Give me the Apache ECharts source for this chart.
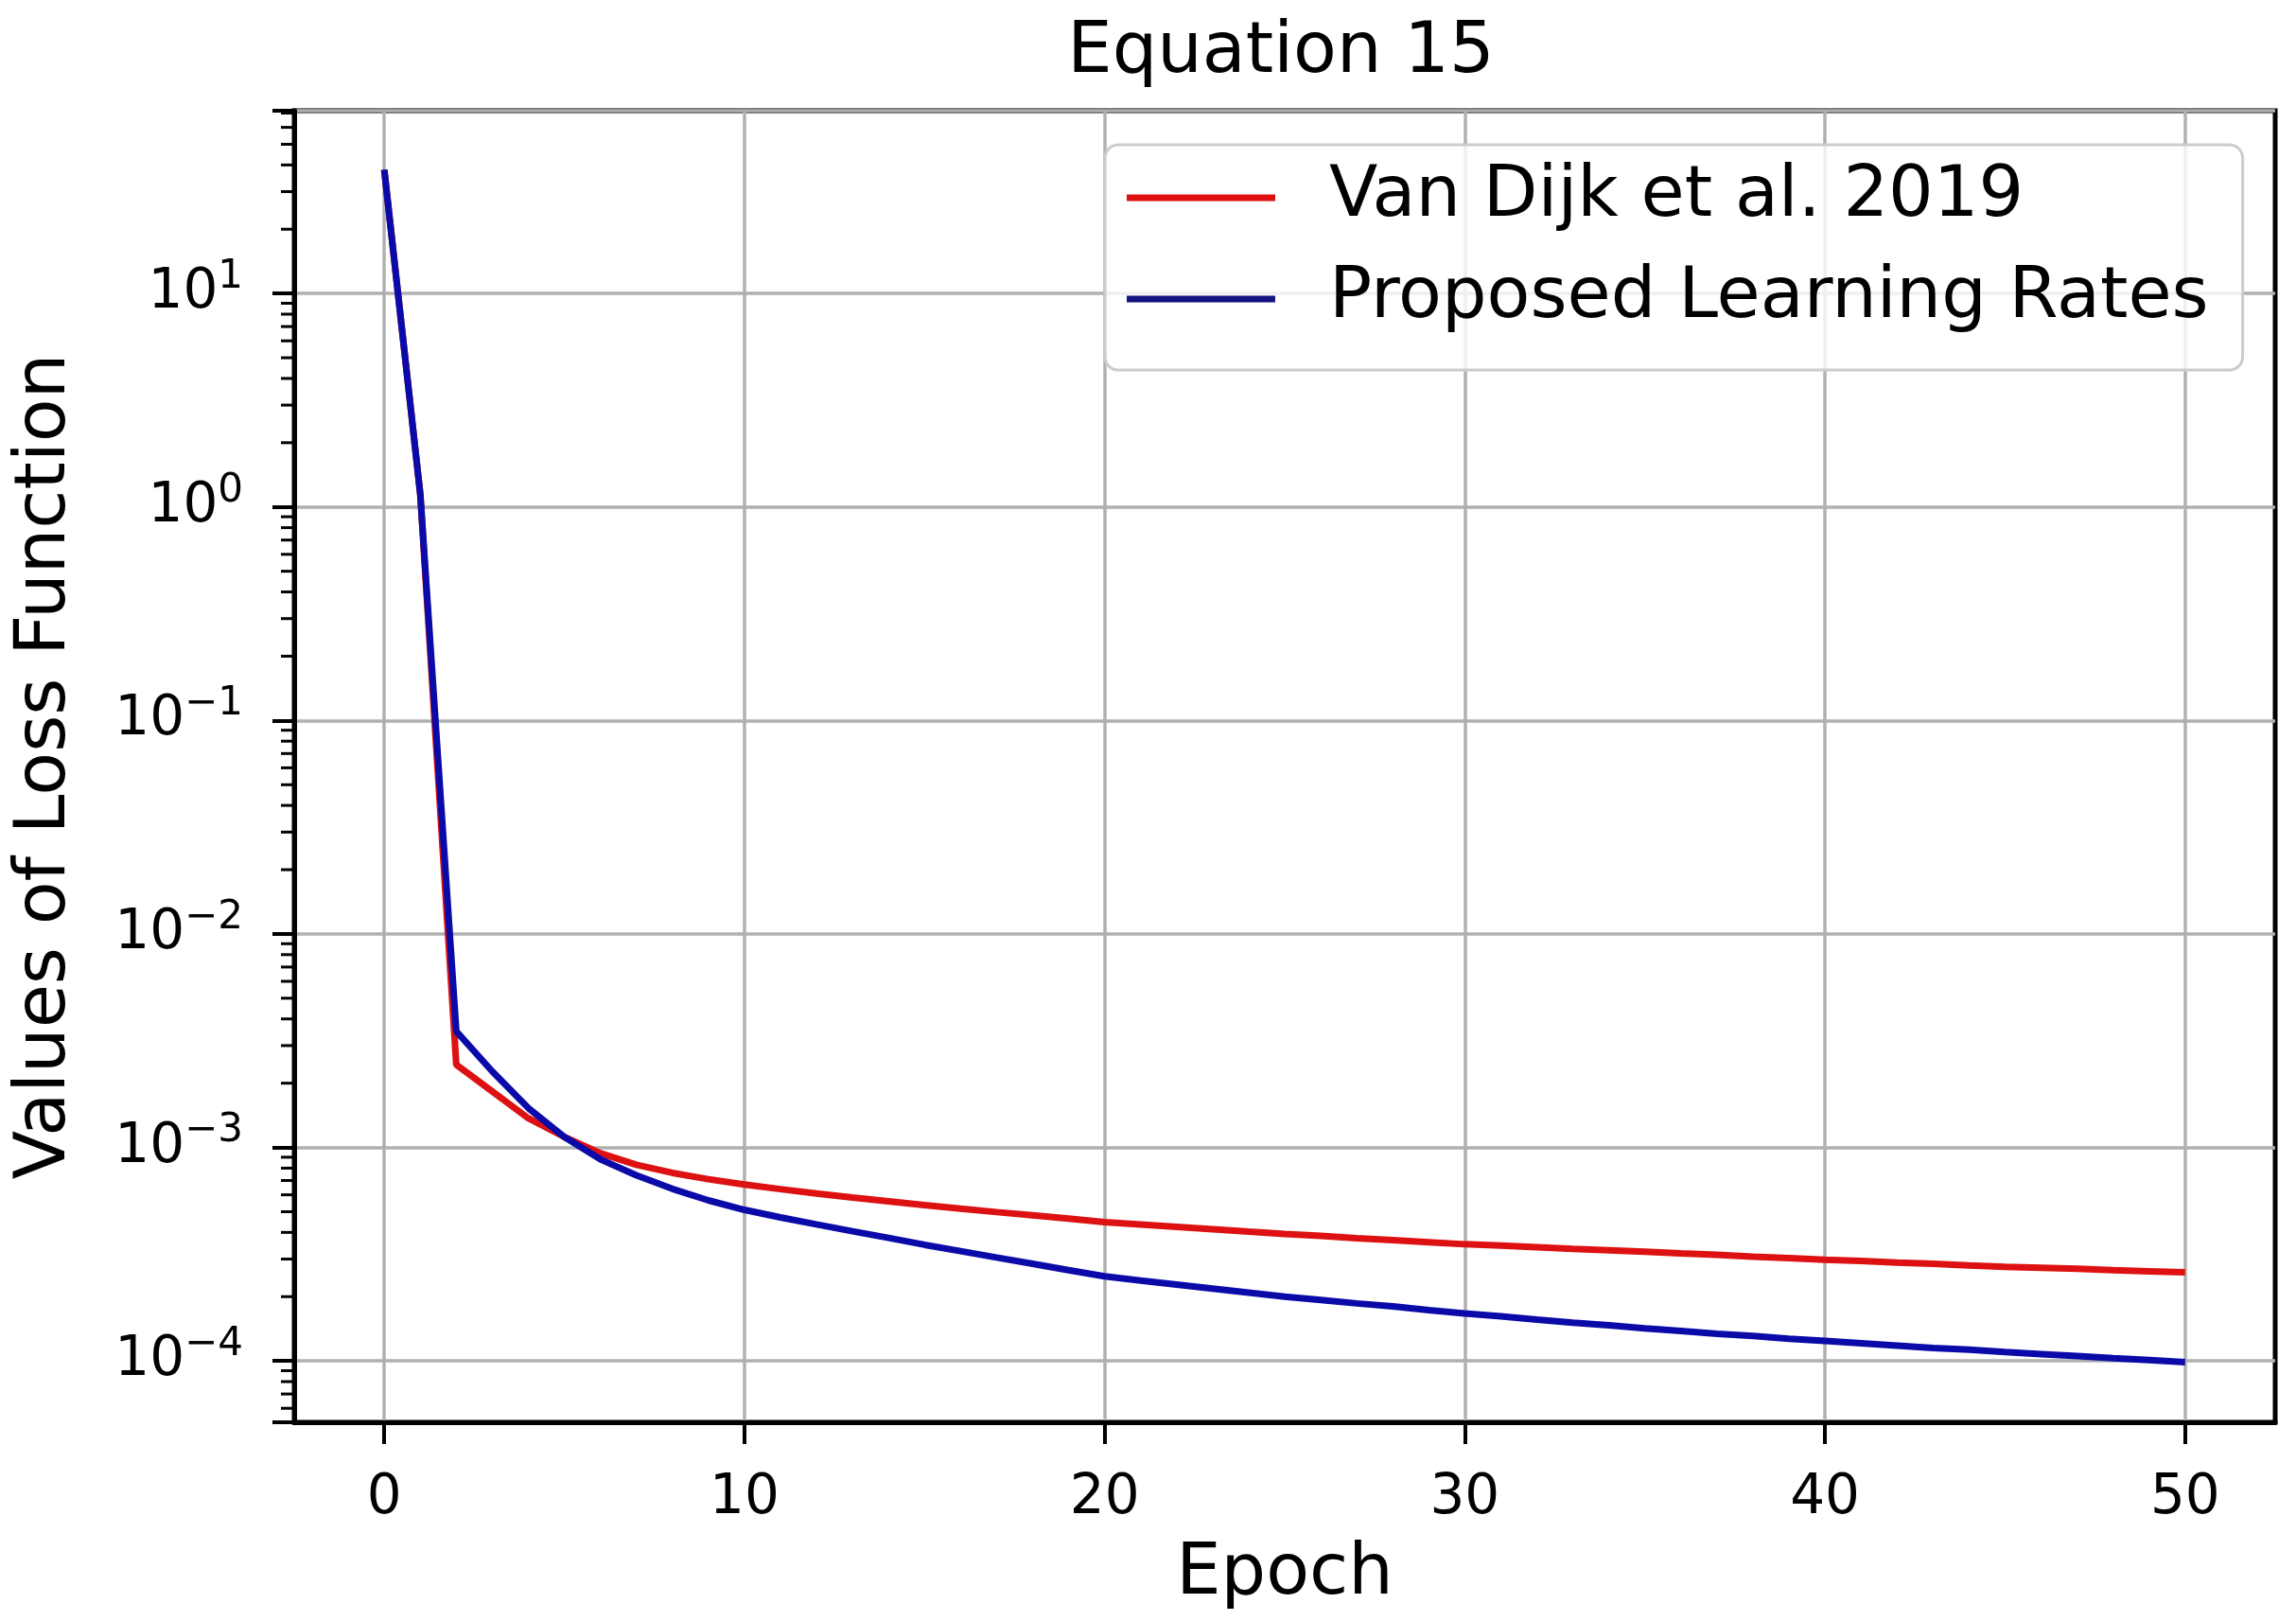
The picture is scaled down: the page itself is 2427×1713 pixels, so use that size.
<!DOCTYPE html>
<html><head><meta charset="utf-8">
<script src="https://cdn.jsdelivr.net/npm/echarts@6/dist/echarts.min.js"></script>
<style>html,body{margin:0;padding:0;background:#fff}#c{width:2427px;height:1713px}</style>
</head><body><div id="c"></div>
<script>
const epochs = [0,1,2,3,4,5,6,7,8,9,10,11,12,13,14,15,16,17,18,19,20,21,22,23,24,25,26,27,28,29,30,31,32,33,34,35,36,37,38,39,40,41,42,43,44,45,46,47,48,49,50];
const vanDijk = [38, 1.15, 2.44e-3, 1.83e-3, 1.37e-3, 1.12e-3, 9.4e-4, 8.3e-4, 7.6e-4, 7.1e-4,
  6.7e-4, 6.38e-4, 6.08e-4, 5.82e-4, 5.59e-4, 5.37e-4, 5.17e-4, 4.98e-4, 4.81e-4, 4.64e-4,
  4.47e-4, 4.36e-4, 4.25e-4, 4.14e-4, 4.03e-4, 3.93e-4, 3.85e-4, 3.76e-4, 3.68e-4, 3.60e-4,
  3.52e-4, 3.47e-4, 3.41e-4, 3.35e-4, 3.30e-4, 3.25e-4, 3.19e-4, 3.14e-4, 3.08e-4, 3.03e-4,
  2.98e-4, 2.94e-4, 2.89e-4, 2.85e-4, 2.80e-4, 2.76e-4, 2.73e-4, 2.70e-4, 2.66e-4, 2.63e-4, 2.60e-4];
const proposed = [38, 1.15, 3.5e-3, 2.27e-3, 1.53e-3, 1.12e-3, 8.8e-4, 7.4e-4, 6.4e-4, 5.65e-4,
  5.1e-4, 4.70e-4, 4.36e-4, 4.05e-4, 3.77e-4, 3.5e-4, 3.27e-4, 3.05e-4, 2.85e-4, 2.66e-4,
  2.49e-4, 2.38e-4, 2.28e-4, 2.18e-4, 2.09e-4, 2.0e-4, 1.93e-4, 1.86e-4, 1.80e-4, 1.73e-4,
  1.67e-4, 1.62e-4, 1.56e-4, 1.51e-4, 1.47e-4, 1.42e-4, 1.38e-4, 1.34e-4, 1.31e-4, 1.27e-4,
  1.24e-4, 1.21e-4, 1.18e-4, 1.15e-4, 1.13e-4, 1.10e-4, 1.077e-4, 1.054e-4, 1.031e-4, 1.009e-4, 9.87e-5];
const xTicks = [0, 10, 20, 30, 40, 50];
const yMinorTicks = [6e-5,7e-5,8e-5,9e-5, 2e-4,3e-4,4e-4,5e-4,6e-4,7e-4,8e-4,9e-4,
  2e-3,3e-3,4e-3,5e-3,6e-3,7e-3,8e-3,9e-3, 2e-2,3e-2,4e-2,5e-2,6e-2,7e-2,8e-2,9e-2,
  0.2,0.3,0.4,0.5,0.6,0.7,0.8,0.9, 2,3,4,5,6,7,8,9, 20,30,40,50,60,70];
const seriesNames = ['Van Dijk et al. 2019', 'Proposed Learning Rates'];
const titleText = 'Equation 15';
const xName = 'Epoch';
const yName = 'Values of Loss Function';

const FONT = 'DejaVu Sans';
const X_MIN = -2.5, X_MAX = 52.5, Y_MIN = 5.16e-5, Y_MAX = 71.8;

const chart = echarts.init(document.getElementById('c'));
chart.setOption({
  backgroundColor: '#ffffff',
  animation: false,
  title: {
    text: titleText, left: 1349, top: 14, textAlign: 'center',
    textStyle: {fontFamily: FONT, fontSize: 75, fontWeight: 'normal', color: '#000'}
  },
  grid: {left: 311, right: 22, top: 117, bottom: 210, show: true, borderColor: '#000', borderWidth: 5, backgroundColor: 'transparent'},
  legend: {
    orient: 'vertical', left: 1168, top: 153,
    data: seriesNames,
    icon: 'rect', itemWidth: 157, itemHeight: 7, itemGap: 27,
    textStyle: {fontFamily: FONT, fontSize: 75, color: '#000', lineHeight: 80, padding: [0, 0, 0, 52]},
    backgroundColor: 'rgba(255,255,255,0.8)', borderColor: '#cccccc', borderWidth: 3, borderRadius: 14,
    padding: [16, 36, 35, 23]
  },
  xAxis: {
    type: 'value', min: X_MIN, max: X_MAX,
    name: xName, nameLocation: 'middle', nameGap: 124,
    nameTextStyle: {fontFamily: FONT, fontSize: 75, color: '#000'},
    axisLine: {show: true, onZero: false, lineStyle: {color: '#000', width: 5}},
    axisTick: {show: true, length: 23, lineStyle: {color: '#000', width: 4}, customValues: xTicks},
    axisLabel: {fontFamily: FONT, fontSize: 58, color: '#000', margin: 52, customValues: xTicks},
    splitLine: {show: true, lineStyle: {color: '#b0b0b0', width: 3.5}}
  },
  yAxis: {
    type: 'log', logBase: 10, min: Y_MIN, max: Y_MAX,
    name: yName, nameLocation: 'middle', nameGap: 225,
    nameTextStyle: {fontFamily: FONT, fontSize: 75, color: '#000'},
    axisLine: {show: true, onZero: false, lineStyle: {color: '#000', width: 5}},
    axisTick: {show: true, length: 23, lineStyle: {color: '#000', width: 4}},
    axisLabel: {
      margin: 54, color: '#000',
      formatter: function (v) {
        const e = Math.log10(v);
        const r = Math.round(e);
        if (Math.abs(e - r) > 1e-6) return '';
        return '{b|10}{s|' + (r < 0 ? '\u2212' + (-r) : r) + '}';
      },
      rich: {
        b: {fontFamily: FONT, fontSize: 58, color: '#000'},
        s: {fontFamily: FONT, fontSize: 42, color: '#000', padding: [0, 0, 34, 0]}
      }
    },
    splitLine: {show: true, lineStyle: {color: '#b0b0b0', width: 3.5}}
  },
  series: [
    {
      name: seriesNames[0], type: 'line', showSymbol: false, symbol: 'none',
      data: epochs.map((x, i) => [x, vanDijk[i]]),
      lineStyle: {color: '#dd1111', width: 7}, itemStyle: {color: '#dd1111'}, z: 3
    },
    {
      name: seriesNames[1], type: 'line', showSymbol: false, symbol: 'none',
      data: epochs.map((x, i) => [x, proposed[i]]),
      lineStyle: {color: '#0a0aa8', width: 7}, itemStyle: {color: '#141480'}, z: 4
    },
    {
      name: 'minorTicks', type: 'custom', clip: false, silent: true,
      data: yMinorTicks.map(v => [X_MIN, v]),
      renderItem: function (params, api) {
        const p = api.coord([api.value(0), api.value(1)]);
        return {type: 'line', shape: {x1: p[0] - 14, y1: p[1], x2: p[0] - 2, y2: p[1]},
          style: {stroke: '#000', lineWidth: 3}};
      }
    }
  ]
});
</script></body></html>
